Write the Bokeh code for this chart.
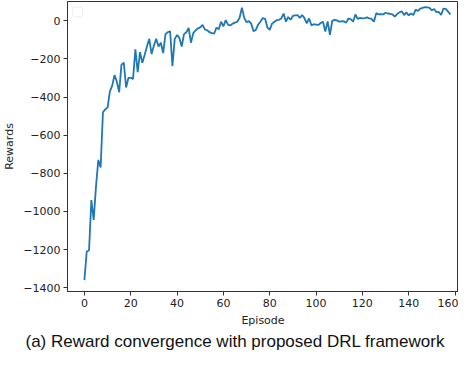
from bokeh.plotting import figure
from bokeh.models import Range1d, FixedTicker, BoxAnnotation, ColumnDataSource, Title
from bokeh.embed import file_html
from bokeh.resources import INLINE

episodes = list(range(159))
rewards = [
    -1360, -1210, -1205, -940, -1045, -870, -730, -770, -480, -465,
    -455, -370, -340, -285, -320, -375, -230, -220, -350, -300,
    -300, -305, -150, -270, -165, -220, -180, -135, -95, -175,
    -130, -95, -135, -115, -170, -70, -60, -55, -238, -95,
    -75, -90, -135, -70, -60, -38, -115, -65, -50, -40,
    -35, -22, -45, -50, -60, -65, -68, -36, -45, -5,
    -30, 3, -20, -25, -15, -10, -5, 16, 69, 15,
    -8, -2, -15, -55, -48, -20, -5, 14, 10, -35,
    -48, -15, -5, 3, 5, 12, 38, -5, 20, 5,
    25, 28, 30, 15, 30, 14, -14, 12, -24, -18,
    -20, -22, -12, -5, -57, -3, -74, 0, 5, 2,
    -5, -3, -2, -10, 12, 8, -5, 33, 10, 15,
    12, 14, 18, 12, 10, -5, 40, 33, 35, 33,
    42, 38, 36, 33, 22, 35, 44, 50, 30, 44,
    28, 38, 30, 58, 52, 64, 68, 72, 70, 68,
    55, 62, 45, 46, 30, 64, 62, 48, 33,
]
x_ticks = [0, 20, 40, 60, 80, 100, 120, 140, 160]
x_tick_labels = ["0", "20", "40", "60", "80", "100", "120", "140", "160"]
y_ticks = [-1400, -1200, -1000, -800, -600, -400, -200, 0]
y_tick_labels = ["\u22121400", "\u22121200", "\u22121000", "\u2212800",
                 "\u2212600", "\u2212400", "\u2212200", "0"]
x_label = "Episode"
y_label = "Rewards"
caption = "(a) Reward convergence with proposed DRL framework"

FONT = "DejaVu Sans"
AX = "#333333"
Y_TOP, Y_BOTTOM = 101, -1420

p = figure(width=458, height=350, output_backend="svg", toolbar_location=None,
           x_range=Range1d(-7.3, 161.5), y_range=Range1d(Y_BOTTOM, Y_TOP),
           min_border_left=0, min_border_right=0, min_border_top=1,
           min_border_bottom=0)
p.background_fill_color = "white"
p.border_fill_color = "white"
p.outline_line_color = AX
p.outline_line_width = 1
p.xgrid.visible = False
p.ygrid.visible = False

src = ColumnDataSource(dict(x=episodes, y=rewards))
p.line("x", "y", source=src, line_color="#1f77b4", line_width=1.8)

for ax, ticks, labels, name in ((p.xaxis[0], x_ticks, x_tick_labels, x_label),
                                (p.yaxis[0], y_ticks, y_tick_labels, y_label)):
    ax.ticker = FixedTicker(ticks=ticks)
    ax.major_label_overrides = {t: l for t, l in zip(ticks, labels)}
    ax.minor_tick_line_color = None
    ax.major_tick_out = 4
    ax.major_tick_in = 0
    ax.major_tick_line_color = AX
    ax.axis_line_color = AX
    ax.major_label_text_font = FONT
    ax.major_label_text_font_size = "11px"
    ax.major_label_text_color = "#222222"
    ax.major_label_standoff = 3
    ax.axis_label = name
    ax.axis_label_text_font = FONT
    ax.axis_label_text_font_size = "11px"
    ax.axis_label_text_font_style = "normal"
    ax.axis_label_text_color = "#222222"
    ax.axis_label_standoff = 4

# empty legend frame (top-left corner, matplotlib's empty legend)
p.add_layout(BoxAnnotation(left=5, right=15, top=Y_TOP - 30, bottom=Y_TOP - 78,
                           left_units="screen", right_units="screen",
                           top_units="data", bottom_units="data",
                           fill_color="white", fill_alpha=1,
                           line_color="#cccccc", line_width=1, border_radius=2))

p.add_layout(Title(text=caption, text_font="Liberation Sans",
                   text_font_size="17px", text_font_style="normal",
                   text_color="#111111", align="left", offset=-42,
                   standoff=0), "below")

open("out.html", "w").write(file_html(p, INLINE))
